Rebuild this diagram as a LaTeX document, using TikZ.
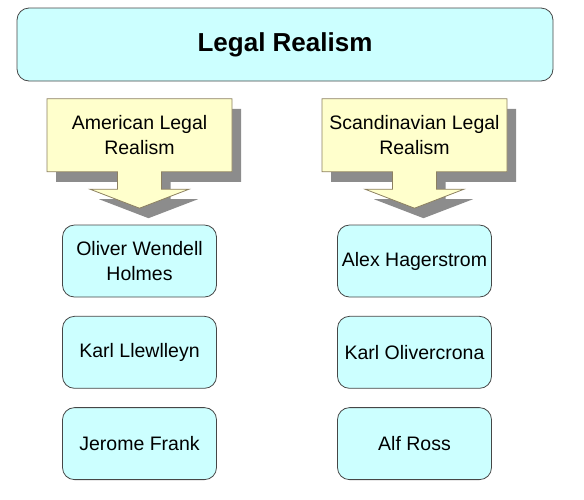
\documentclass[tikz,border=0pt]{standalone}
\usepackage{fontspec}
\setmainfont{Liberation Sans}
\usepackage{tikz}
\usetikzlibrary{positioning,shapes.arrows,shadows}
\definecolor{namefill}{RGB}{204,255,255}
\definecolor{notefill}{RGB}{255,255,204}
\definecolor{noteline}{RGB}{140,128,96}
\definecolor{boxline}{RGB}{70,70,70}

\begin{document}
\begin{tikzpicture}[
  font=\fontsize{19.5}{25}\selectfont,
  node distance=18.5pt,
  head/.style={draw=boxline,line width=0.8pt,rounded corners=12pt,fill=namefill,minimum width=536pt,minimum height=73pt,font=\fontsize{26}{30}\selectfont\bfseries},
  school/.style={shape=arrow box,draw=noteline,line width=0.8pt,fill=notefill,minimum width=185pt,minimum height=73pt,align=center,
    arrow box arrows={south:36pt from border},arrow box shaft width=44pt,arrow box head extend=27.5pt,arrow box tip angle=138,
    drop shadow={shadow xshift=9pt,shadow yshift=-10pt,fill=black!45,opacity=1}},
  person/.style={draw=boxline,line width=0.8pt,rounded corners=12pt,fill=namefill,minimum width=154pt,minimum height=72pt,align=center},
]
\useasboundingbox (0,0) rectangle (584pt,-499pt);

% title
\node[head] (lr) at (285pt,-44.5pt) {Legal Realism};

% the two schools
\node[school,below right=17pt and 30pt of lr.south west] (amer) {American Legal\\Realism};
\node[school,below left=17pt and 46pt of lr.south east] (scand) {Scandinavian Legal\\Realism};

% american realists
\node[person,below=16pt of amer] (holmes) {Oliver Wendell\\Holmes};
\node[person,below=of holmes] (llew) {Karl Llewlleyn};
\node[person,below=of llew] (frank) {Jerome Frank};

% scandinavian realists
\node[person,below=16pt of scand] (hager) {Alex Hagerstrom};
\node[person,below=of hager] (olive) {Karl Olivercrona};
\node[person,below=of olive] (ross) {Alf Ross};
\end{tikzpicture}
\end{document}
